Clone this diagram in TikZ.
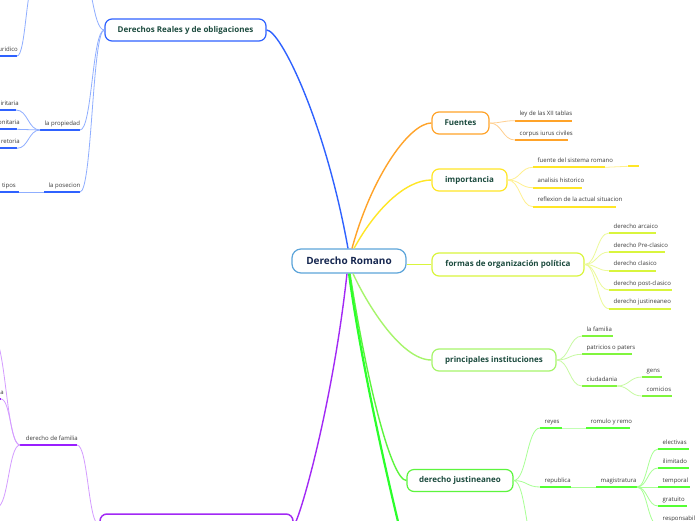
\documentclass[tikz,border=0pt]{standalone}
\usepackage{fontspec}
\setmainfont{Open Sans}
\usetikzlibrary{calc}
\definecolor{txtG}{HTML}{1C4B3E}
\definecolor{txtN}{HTML}{15264F}
\definecolor{leafT}{HTML}{3A3A3A}
\definecolor{rootB}{HTML}{5DA5DA}
\definecolor{cBl}{HTML}{2F62FF}
\definecolor{cBlL}{HTML}{8FAEFF}
\definecolor{cOr}{HTML}{FFA329}
\definecolor{cOrL}{HTML}{FFCF8F}
\definecolor{cYe}{HTML}{FFE626}
\definecolor{cYeL}{HTML}{FFF08F}
\definecolor{cYG}{HTML}{D9F53D}
\definecolor{cYGL}{HTML}{ECFA99}
\definecolor{cLG}{HTML}{A6F56B}
\definecolor{cLGU}{HTML}{80F53D}
\definecolor{cLGL}{HTML}{C8FAA3}
\definecolor{cGr}{HTML}{5CF53D}
\definecolor{cGrU}{HTML}{55FF33}
\definecolor{cGrL}{HTML}{A8FF94}
\definecolor{cBG}{HTML}{2BFF2B}
\definecolor{cPu}{HTML}{A229F5}
\definecolor{cPuU}{HTML}{9A1FFF}
\definecolor{cPuL}{HTML}{D49CFF}
\tikzset{
  box/.style={draw, rounded corners=7pt, line width=1.2pt, fill=white, text=txtG,
    font=\bfseries\fontsize{8}{9}\selectfont, inner sep=0pt, minimum height=22pt},
  rootbox/.style={draw=rootB, rounded corners=9pt, line width=1.2pt, fill=white, text=txtN,
    font=\bfseries\fontsize{10}{11}\selectfont, inner sep=0pt, minimum height=24pt, minimum width=114pt},
  leaf/.style={inner sep=0pt, text=leafT, font=\fontsize{6}{7}\selectfont},
  ul/.style={line width=1.8pt},
  con/.style={line width=0.8pt},
  main/.style={line width=1.4pt},
  sc/.style={to path={let \p1=(\tikztostart), \p2=(\tikztotarget) in
    .. controls ({0.5*\x1+0.5*\x2},\y1) and ({0.5*\x1+0.5*\x2},\y2) .. (\tikztotarget)}}
}
\newcommand\leafW[6]{%
  \coordinate (#1L) at (#2,#4);
  \coordinate (#1R) at (#3,#4);
  \node[leaf,anchor=base west] (#1) at ($(#1L)+(4.5,-5)$) {#5};
  \draw[ul,#6] (#1L) -- (#1R);}
\newcommand\leafE[7]{%
  \coordinate (#1L) at (#2,#4);
  \coordinate (#1R) at (#3,#4);
  \node[leaf,anchor=base east] (#1) at (#5,#4-5) {#6};
  \draw[ul,#7] (#1L) -- (#1R);}
\begin{document}
\begin{tikzpicture}[x=1pt,y=-1pt]
\useasboundingbox (0,0) rectangle (696,520);
\fill[white] (0,0) rectangle (696,520);
\clip (0,0) rectangle (696,520);

% main boxes
\node[rootbox] (root) at (349,261) {Derecho Romano};
\node[box, draw=cBl, minimum width=161pt] (dr) at (185.5,30) {Derechos Reales y de obligaciones};
\node[box, draw=cOr, minimum width=57pt] (fu) at (460.5,123) {Fuentes};
\node[box, draw=cYe, minimum width=75pt] (im) at (469.5,180) {importancia};
\node[box, draw=cYG, minimum width=152pt, minimum height=23pt] (fo) at (508,264.5) {formas de organización política};
\node[box, draw=cLG, minimum width=124pt] (pr) at (494,360) {principales instituciones};
\node[box, draw=cGr, minimum width=106pt] (dj) at (460,480.5) {derecho justineaneo};
\node[box, draw=cPu, line width=1.5pt, minimum width=193pt] (pu) at (196.5,525) {};

% off-picture ends
\coordinate (dr0) at (80,-30);
\coordinate (urp) at (35,-20);
\coordinate (fa1) at (-8,335);
\coordinate (fa3) at (-3,507);
\coordinate (gdown) at (410,570);
\coordinate (dj3) at (540,560);

% main connectors
\draw[main,cBl] ($(root.north)+(-1,0)$) .. controls (325,120) and (280,30) .. (dr.east);
\draw[main,cOr] ($(root.north)+(3,0)$) .. controls (372,175) and (410,123) .. (fu.west);
\draw[main,cYe] ($(root.north)+(5,0)$) .. controls (375,210) and (405,180) .. (im.west);
\draw[main,cYG] (root.east |- fo.west) -- (fo.west);
\draw[main,cLG] ($(root.south)+(4,0)$) .. controls (365,300) and (400,360) .. (pr.west);
\draw[main,cGr] ($(root.south)+(1,0)$) .. controls (368,390) and (392,480) .. (dj.west);
\draw[main,cBG,line width=2.2pt] (root.south) .. controls (362,370) and (392,500) .. (gdown);
\draw[main,cPu] ($(root.south)+(-2,0)$) .. controls (332,410) and (298,525) .. (pu.east);

% blue branch (left)
\leafW{prop}{40}{80}{130}{la propiedad}{cBl}
\leafW{pos}{44}{80}{192}{la posecion}{cBl}
\leafE{qui}{-30}{16}{110}{19}{uiritaria}{cBl}
\leafE{boni}{-30}{17}{129.3}{20}{onitaria}{cBl}
\leafE{pre}{-30}{17}{148.3}{20}{retoria}{cBl}
\leafE{tip}{-5}{19}{192}{16}{tipos}{cBl}
\leafE{ur}{-30}{17}{56}{18}{uridico}{cBl}
\draw[con,cBlL] (dr.west) to[sc] (dr0);
\draw[con,cBlL] (dr.west) to[sc] (propR);
\draw[con,cBlL] (dr.west) to[sc] (posR);
\draw[con,cBlL] (urR) to[sc] (urp);
\draw[con,cBlL] (propL) to[sc] (quiR);
\draw[con,cBlL] (propL) to[sc] (boniR);
\draw[con,cBlL] (propL) to[sc] (preR);
\draw[con,cBlL] (posL) -- (tipR);

% purple branch
\leafE{fam}{20}{77}{445}{78}{derecho de familia}{cPuU}
\leafE{faa}{-30}{1}{399}{4}{a}{cPuU}
\draw[con,cPuL] (pu.west) to[sc] (famR);
\draw[con,cPuL] (famL) to[sc] (fa1);
\draw[con,cPuL] (famL) to[sc] (faaR);
\draw[con,cPuL] (famL) to[sc] (fa3);

% Fuentes
\leafW{f1}{515}{572}{120.7}{ley de las XII tablas}{cOr}
\leafW{f2}{515}{568}{140}{corpus iurus civiles}{cOr}
\draw[con,cOrL] (fu.east) to[sc] (f1L);
\draw[con,cOrL] (fu.east) to[sc] (f2L);

% importancia
\leafW{i1}{533}{605}{167.3}{fuente del sistema romano}{cYe}
\leafW{i2}{533}{582}{187.7}{analisis historico}{cYe}
\leafW{i3}{533}{616}{206.7}{reflexion de la actual situacion}{cYe}
\coordinate (i4L) at (628,166.3);
\coordinate (i4R) at (639,166.3);
\draw[ul,cYe] (i4L) -- (i4R);
\draw[con,cYeL] (i1R) to[sc] (i4L);
\draw[con,cYeL] (im.east) to[sc] (i1L);
\draw[con,cYeL] (im.east) to[sc] (i2L);
\draw[con,cYeL] (im.east) to[sc] (i3L);

% formas
\leafW{o1}{609}{656}{233}{derecho arcaico}{cYG}
\leafW{o2}{609}{665}{252}{derecho Pre-clasico}{cYG}
\leafW{o3}{609}{656}{270.7}{derecho clasico}{cYG}
\leafW{o4}{609}{672}{290}{derecho post-clasico}{cYG}
\leafW{o5}{609}{671}{308.7}{derecho justineaneo}{cYG}
\foreach \k in {o1,o2,o3,o4,o5}{\draw[con,cYGL] (fo.east) to[sc] (\k L);}

% principales
\leafW{p1}{582}{613}{336}{la familia}{cLGU}
\leafW{p2}{582}{632}{354.3}{patricios o paters}{cLGU}
\leafW{p3}{582}{617}{386}{ciudadania}{cLGU}
\leafW{p4}{642}{662}{377}{gens}{cLGU}
\leafW{p5}{642}{672}{396}{comicios}{cLGU}
\foreach \k in {p1,p2,p3}{\draw[con,cLGL] (pr.east) to[sc] (\k L);}
\draw[con,cLGL] (p3R) to[sc] (p4L);
\draw[con,cLGL] (p3R) to[sc] (p5L);

% derecho justineaneo
\leafW{j1}{540}{562}{428}{reyes}{cGrU}
\leafW{j2}{586}{630}{428}{romulo y remo}{cGrU}
\leafW{j3}{540}{571}{487}{republica}{cGrU}
\leafW{j4}{596}{637}{487}{magistratura}{cGrU}
\leafW{m1}{658}{689}{449}{electivas}{cGrU}
\leafW{m2}{658}{689}{468}{ilimitado}{cGrU}
\leafW{m3}{658}{690}{487}{temporal}{cGrU}
\leafW{m4}{658}{687}{506}{gratuito}{cGrU}
\leafW{m5}{658}{720}{525}{responsabil}{cGrU}
\draw[con,cGrL] (dj.east) to[sc] (j1L);
\draw[con,cGrL] (dj.east) to[sc] (j3L);
\draw[con,cGrL] (dj.east) to[sc] (dj3);
\draw[con,cGrL!70!white] (j1R) -- (j2L);
\draw[con,cGrL] (j3R) -- (j4L);
\foreach \k in {m1,m2,m3,m4,m5}{\draw[con,cGrL] (j4R) to[sc] (\k L);}
\end{tikzpicture}
\end{document}
